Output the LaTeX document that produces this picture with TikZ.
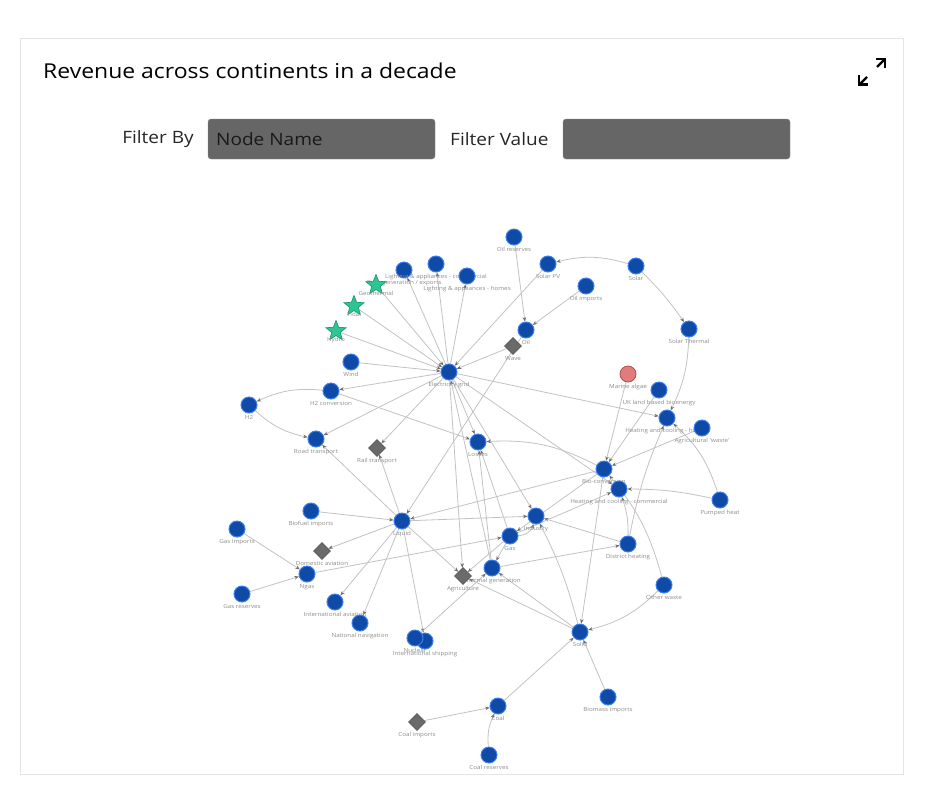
\documentclass[tikz,border=0pt]{standalone}
\usepackage{fontspec}
\setmainfont{Open Sans}
\newfontfamily\widefont[FakeStretch=1.12]{Open Sans}
\usetikzlibrary{shapes.geometric,arrows.meta,backgrounds}
\definecolor{nodeblue}{HTML}{0F4AA6}
\definecolor{nodeedge}{HTML}{3D7EF0}
\definecolor{stargreen}{HTML}{2EC493}
\definecolor{staredge}{HTML}{1C9C6E}
\definecolor{dgray}{HTML}{6A6A6A}
\definecolor{dedge}{HTML}{585858}
\definecolor{redfill}{HTML}{E07C7C}
\definecolor{rededge}{HTML}{B24C4C}
\definecolor{labgray}{HTML}{8C8C8C}
\definecolor{edgegray}{HTML}{C2C2C2}
\definecolor{arrowgray}{HTML}{6E6E6E}
\definecolor{boxgray}{HTML}{666666}
\definecolor{panelgray}{HTML}{E4E4E4}
\newcommand\mynode[5]{\node[#1,label={[lab]below:#5}] (#2) at (#3,-#4) {};}
\begin{document}
\begin{tikzpicture}[x=1pt,y=1pt,label distance=1.4pt,
 nd/.style={circle,fill=nodeblue,draw=nodeedge,line width=1pt,minimum size=16pt,inner sep=0pt},
 st/.style={star,star points=5,star point ratio=2.3,fill=stargreen,draw=staredge,line width=0.7pt,minimum size=21pt,inner sep=0pt},
 dm/.style={diamond,fill=dgray,draw=dedge,line width=0.6pt,minimum size=17pt,inner sep=0pt},
 rd/.style={circle,fill=redfill,draw=rededge,line width=0.8pt,minimum size=16pt,inner sep=0pt},
 lab/.style={font=\widefont\fontsize{5.6}{6.5}\selectfont,text=labgray,inner sep=0pt},
 ed/.style={draw=edgegray,line width=0.8pt,-{Stealth[length=4.5pt,width=3.6pt,color=arrowgray]}},
 ui/.style={font=\widefont\fontsize{17}{20}\selectfont,inner sep=0pt},
 icon/.style={line width=2.4pt,black}
]
\useasboundingbox (0,0) rectangle (929,-796);
% panel
\draw[panelgray,line width=0.8pt] (20,-38) rectangle (903,-774);
\node[anchor=base west,font=\widefont\fontsize{20.5}{24}\selectfont,text=black,inner sep=0pt] (title) at (43,-78) {Revenue across continents in a decade};
% expand icon
\draw[icon] (877,-67) -- (884,-60);
\draw[icon,line join=miter] (876,-59) -- (885,-59) -- (885,-68);
\draw[icon] (867,-77) -- (860,-84);
\draw[icon,line join=miter] (859,-75) -- (859,-84.5) -- (868,-84.5);
% filters
\node[ui,anchor=east,text=black!85] (fby) at (194,-139.5) {Filter By};
\draw[fill=boxgray,draw=black!45,rounded corners=3pt] (208,-119) rectangle (435,-159);
\node[ui,anchor=west,text=black!90] (fname) at (216,-139.5) {Node Name};
\node[ui,anchor=west,text=black!85] (fval) at (450,-139.5) {Filter Value};
\draw[fill=boxgray,draw=black!45,rounded corners=3pt] (563,-119) rectangle (790,-159);
% nodes
\mynode{nd}{oilres}{514}{237}{Oil reserves}
\mynode{nd}{solarpv}{548}{264}{Solar PV}
\mynode{nd}{solar}{636}{266}{Solar}
\mynode{nd}{oilimp}{586}{286}{Oil imports}
\mynode{nd}{overgen}{404}{270}{Over generation / exports}
\mynode{nd}{lightcom}{436}{264}{Lighting \& appliances - commercial}
\mynode{nd}{lighthom}{467}{276}{Lighting \& appliances - homes}
\mynode{st}{hydro}{336}{331}{Hydro}
\mynode{st}{tidal}{354}{306}{Tidal}
\mynode{st}{geo}{376}{285}{Geothermal}
\mynode{nd}{oil}{526}{330}{Oil}
\mynode{dm}{wave}{513}{346}{Wave}
\mynode{nd}{solarth}{689}{329}{Solar Thermal}
\mynode{nd}{wind}{351}{362}{Wind}
\mynode{nd}{elec}{449}{372}{Electricity grid}
\mynode{rd}{marine}{628}{374}{Marine algae}
\mynode{nd}{ukland}{659}{390}{UK land based bioenergy}
\mynode{nd}{h2conv}{331}{391}{H2 conversion}
\mynode{nd}{h2}{249}{405}{H2}
\mynode{nd}{heathom}{667}{418}{Heating and cooling - homes}
\mynode{nd}{agwaste}{702}{428}{Agricultural 'waste'}
\mynode{nd}{road}{316}{439}{Road transport}
\mynode{nd}{losses}{478}{442}{Losses}
\mynode{dm}{rail}{377}{448}{Rail transport}
\mynode{nd}{bioconv}{604}{469}{Bio-conversion}
\mynode{nd}{heatcom}{619}{489}{Heating and cooling - commercial}
\mynode{nd}{pumped}{720}{500}{Pumped heat}
\mynode{nd}{biofuel}{311}{511}{Biofuel imports}
\mynode{nd}{industry}{536}{516}{Industry}
\mynode{nd}{liquid}{402}{521}{Liquid}
\mynode{nd}{gasimp}{237}{529}{Gas imports}
\mynode{nd}{gas}{510}{536}{Gas}
\mynode{nd}{district}{628}{544}{District heating}
\mynode{dm}{domav}{322}{551}{Domestic aviation}
\mynode{nd}{thermal}{492}{568}{Thermal generation}
\mynode{dm}{agri}{463}{576}{Agriculture}
\mynode{nd}{ngas}{307}{574}{Ngas}
\mynode{nd}{othwaste}{664}{585}{Other waste}
\mynode{nd}{gasres}{242}{594}{Gas reserves}
\mynode{nd}{intav}{335}{602}{International aviation}
\mynode{nd}{natnav}{360}{623}{National navigation}
\mynode{nd}{solid}{580}{632}{Solid}
\mynode{nd}{intship}{425}{641}{International shipping}
\mynode{nd}{nuclear}{415}{638}{Nuclear}
\mynode{nd}{biomass}{608}{697}{Biomass imports}
\mynode{nd}{coal}{498}{706}{Coal}
\mynode{dm}{coalimp}{417}{722}{Coal imports}
\mynode{nd}{coalres}{489}{755}{Coal reserves}
% edges
\begin{scope}[on background layer]
\foreach \a/\b in {agwaste/bioconv, bioconv/liquid, bioconv/solid, bioconv/gas,
  biofuel/liquid, biomass/solid, coalimp/coal, coal/solid, district/industry,
  elec/overgen, elec/heathom, elec/h2conv, elec/industry, elec/heatcom, elec/agri,
  elec/lightcom, elec/lighthom, elec/road, elec/rail, elec/losses,
  gasimp/ngas, gasres/ngas, gas/heatcom, gas/thermal, gas/losses, gas/agri,
  geo/elec, h2conv/losses, hydro/elec,
  liquid/industry, liquid/intship, liquid/road, liquid/domav, liquid/intav,
  liquid/agri, liquid/natnav, liquid/rail, marine/bioconv, ngas/gas,
  nuclear/thermal, oilimp/oil, oilres/oil, oil/liquid, solarpv/elec,
  solid/agri, solid/thermal, thermal/elec, thermal/losses, thermal/district,
  tidal/elec, ukland/bioconv, wave/elec, wind/elec}
  \draw[ed] (\a) -- (\b);
\draw[ed] (bioconv) to[bend right=15] (losses);
\draw[ed] (coalres) to[bend left=15] (coal);
\draw[ed] (district) to[bend right=10] (heatcom);
\draw[ed] (district) to[bend left=6] (heathom);
\draw[ed] (gas) to[bend right=35] (industry);
\draw[ed] (h2conv) to[bend right=15] (h2);
\draw[ed] (h2) to[bend right=15] (road);
\draw[ed] (othwaste) to[bend left=15] (solid);
\draw[ed] (othwaste) to[bend right=12] (bioconv);
\draw[ed] (pumped) to[bend right=15] (heathom);
\draw[ed] (pumped) to[bend right=6] (heatcom);
\draw[ed] (solarth) to[bend left=12] (heathom);
\draw[ed] (solar) to[bend left=5] (solarth);
\draw[ed] (solar) to[bend right=15] (solarpv);
\draw[ed] (solid) to[bend right=6] (industry);
\end{scope}
\end{tikzpicture}
\end{document}
